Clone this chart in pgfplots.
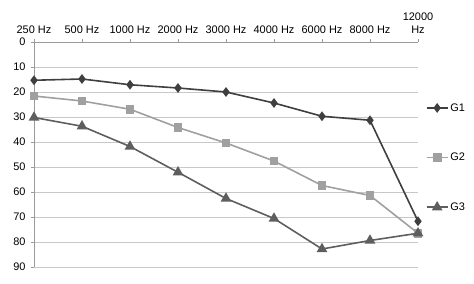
\documentclass[border=0pt]{standalone}
\usepackage{pgfplots}
\pgfplotsset{compat=1.18}
\usepackage{fontspec}
\setmainfont{Liberation Sans}
\definecolor{gone}{HTML}{3F3F3F}
\definecolor{gtwo}{HTML}{A0A0A0}
\definecolor{gthree}{HTML}{5E5E5E}
\definecolor{gridc}{HTML}{C8C8C8}
\definecolor{axc}{HTML}{9A9A9A}
\begin{document}
\begin{tikzpicture}
\begin{axis}[
  scale only axis,
  width=384bp, height=225bp,
  at={(34bp,-42bp)}, anchor=north west,
  xmin=0, xmax=8,
  ymin=0, ymax=90,
  y dir=reverse,
  axis x line*=top,
  axis y line*=left,
  axis line style={axc, line width=0.6pt},
  xtick={0,...,8},
  xticklabels={250 Hz,500 Hz,1000 Hz,2000 Hz,3000 Hz,4000 Hz,6000 Hz,8000 Hz,{12000\\Hz}},
  x tick label style={align=center, font=\fontsize{11}{13}\selectfont, yshift=2bp},
  ytick={0,10,...,90},
  y tick label style={font=\fontsize{11}{13}\selectfont, xshift=-2bp},
  /pgf/number format/assume math mode=true,
  tick style={axc, line width=0.6pt},
  tick align=outside,
  major tick length=3bp,
  ymajorgrids,
  grid style={gridc, line width=0.8pt},
  legend style={draw=none, fill=none, at={(axis description cs:1.02,0.737)}, anchor=north west,
    font=\fontsize{11}{13}\selectfont, row sep=36.5bp, inner sep=0pt},
  legend cell align=left,
  legend image code/.code={\draw[mark repeat=2,mark phase=2,#1] plot coordinates {(0cm,0cm) (0.37cm,0cm) (0.74cm,0cm)};},
  clip=false,
]
\addplot[gone, line width=1.6pt, mark=diamond*, mark size=3.6bp, mark options={solid, fill=gone}]
  coordinates {(0,15.3) (1,14.8) (2,17.1) (3,18.4) (4,20) (5,24.4) (6,29.7) (7,31.3) (8,71.7)};
\addlegendentry{G1}
\addplot[gtwo, line width=1.6pt, mark=square*, mark size=3.6bp, mark options={solid, fill=gtwo}]
  coordinates {(0,21.6) (1,23.6) (2,26.9) (3,34.2) (4,40.4) (5,47.6) (6,57.4) (7,61.4) (8,76.5)};
\addlegendentry{G2}
\addplot[gthree, line width=1.6pt, mark=triangle*, mark size=4.6bp, mark options={solid, fill=gthree}]
  coordinates {(0,30.2) (1,33.7) (2,41.8) (3,52.1) (4,62.6) (5,70.6) (6,82.8) (7,79.4) (8,76.5)};
\addlegendentry{G3}
\end{axis}
\pgfresetboundingbox
\path (0,0) rectangle (474bp,-284bp);
\end{tikzpicture}
\end{document}
